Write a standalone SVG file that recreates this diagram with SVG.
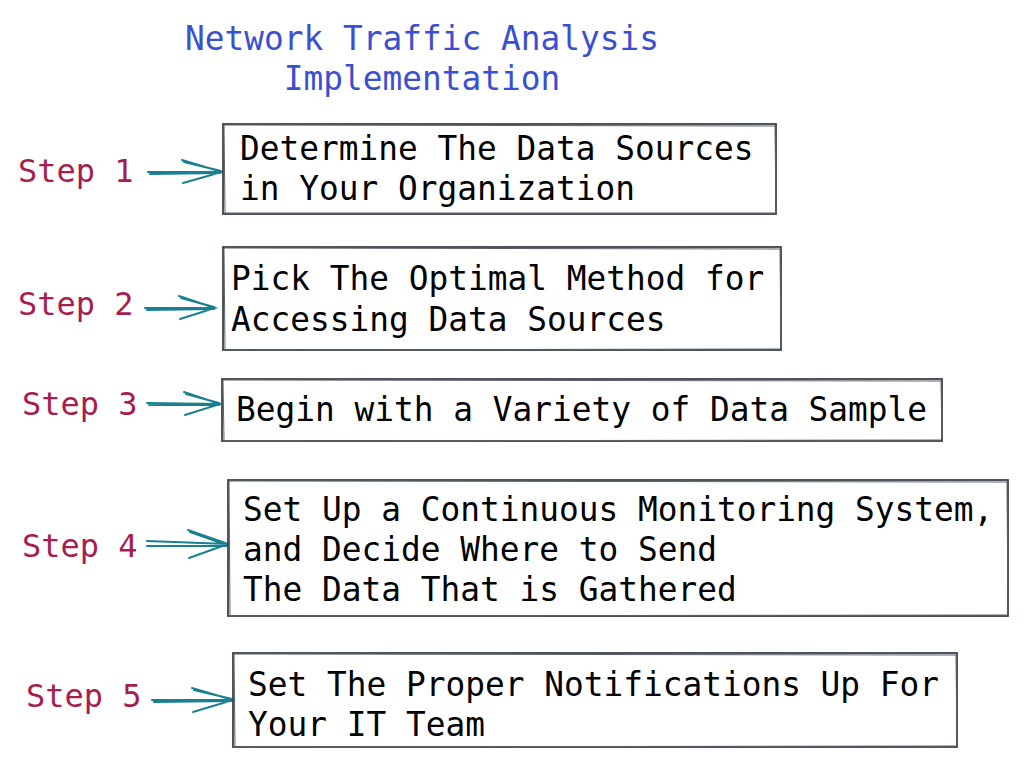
<svg xmlns="http://www.w3.org/2000/svg" width="1024" height="766" viewBox="0 0 1024 766">
<defs>
<style>
text{font-family:"DejaVu Sans Mono","Liberation Mono",monospace;font-size:32.8px;}
.title{fill:#3b4fd1;}
.step{fill:#a61e4d;font-size:32px;}
.body{fill:#000;}
.box{fill:#fff;stroke:#3d434a;stroke-width:1.8;}
.box2{fill:none;stroke:#5a6068;stroke-width:1;}
.arr{fill:none;stroke:#19808f;stroke-width:2;stroke-linecap:round;}
</style>
</defs>
<rect width="1024" height="766" fill="#fff"/>
<g id="title">
<text class="title" x="422" y="50" text-anchor="middle">Network Traffic Analysis</text>
<text class="title" x="422" y="90" text-anchor="middle">Implementation</text>
</g>
<g id="connectors">
<path class="arr" d="M148 172 L222 172 M150 174 L220 173 M182 160 L222 172 L183 183 M184 162 L221 171"/>
<path class="arr" d="M145 308 L215 308 M147 310 L214 309 M179 296 L215 308 L180 319 M181 298 L214 307"/>
<path class="arr" d="M147 403 L220 404 M149 405 L219 405 M184 392 L220 404 L185 415 M186 394 L219 403"/>
<path class="arr" d="M147 541 L228 544 M147 546 L227 546 M188 530 L228 544 L189 558 M190 532 L227 545"/>
<path class="arr" d="M152 700 L233 700 M154 702 L232 701 M192 688 L233 700 L193 712 M194 690 L232 699"/>
</g>
<g id="step1">
<text class="step" x="18" y="182">Step 1</text>
<rect class="box" x="223" y="124" width="553" height="90"/>
<path class="box2" d="M224 125 L775 126 L776 213 L225 213 Z"/>
<text class="body" x="240" y="160">Determine The Data Sources</text>
<text class="body" x="240" y="200">in Your Organization</text>
</g>
<g id="step2">
<text class="step" x="18" y="315">Step 2</text>
<rect class="box" x="223" y="247" width="558" height="103"/>
<path class="box2" d="M224 248 L780 249 L781 349 L225 350 Z"/>
<text class="body" x="231" y="290">Pick The Optimal Method for</text>
<text class="body" x="231" y="331">Accessing Data Sources</text>
</g>
<g id="step3">
<text class="step" x="22" y="415">Step 3</text>
<rect class="box" x="222" y="379" width="720" height="62"/>
<path class="box2" d="M223 380 L941 381 L942 440 L224 441 Z"/>
<text class="body" x="236" y="421">Begin with a Variety of Data Sample</text>
</g>
<g id="step4">
<text class="step" x="22" y="557">Step 4</text>
<rect class="box" x="228" y="480" width="780" height="136"/>
<path class="box2" d="M229 481 L1007 482 L1008 615 L230 616 Z"/>
<text class="body" x="243" y="521">Set Up a Continuous Monitoring System,</text>
<text class="body" x="243" y="561">and Decide Where to Send</text>
<text class="body" x="243" y="601">The Data That is Gathered</text>
</g>
<g id="step5">
<text class="step" x="26" y="707">Step 5</text>
<rect class="box" x="233" y="653" width="724" height="94"/>
<path class="box2" d="M234 654 L956 655 L957 746 L235 747 Z"/>
<text class="body" x="248" y="696">Set The Proper Notifications Up For</text>
<text class="body" x="248" y="736">Your IT Team</text>
</g>
</svg>
